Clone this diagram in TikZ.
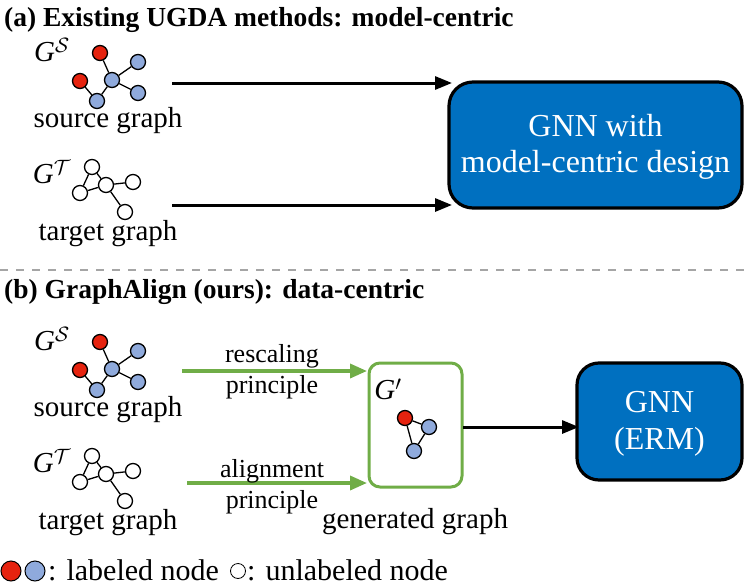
\documentclass[tikz,border=0pt]{standalone}
\usepackage{fontspec}
\setmainfont{Liberation Serif}
\usetikzlibrary{arrows.meta}
\definecolor{nred}{RGB}{230,35,15}
\definecolor{nblue}{RGB}{143,170,220}
\definecolor{boxblue}{RGB}{0,112,192}
\definecolor{grn}{RGB}{112,173,71}
\definecolor{dgray}{RGB}{165,165,165}
\begin{document}
\begin{tikzpicture}[x=1pt,y=-1pt,
  gn/.style={circle,draw=black,line width=1.3pt,minimum size=15pt,inner sep=0pt},
  rn/.style={gn,fill=nred},
  bn/.style={gn,fill=nblue},
  wn/.style={gn,fill=white},
  ge/.style={line width=1.3pt},
  lbl/.style={inner sep=0pt,anchor=base,font=\fontsize{29}{31}\selectfont},
  leg/.style={inner sep=0pt,anchor=base west,font=\fontsize{30}{32}\selectfont},
  small/.style={inner sep=0pt,anchor=base,font=\fontsize{26}{28}\selectfont},
  ttl/.style={inner sep=0pt,anchor=base west,font=\fontsize{27.5}{30}\selectfont\bfseries},
  gnnbox/.style={draw=black,line width=3.2pt,fill=boxblue,rounded corners=24pt},
  gnntext/.style={text=white,align=center,font=\fontsize{32}{36.5}\selectfont},
  blk/.style={line width=3pt,-{Triangle[length=17pt,width=13pt]}},
  garr/.style={draw=grn,line width=3.5pt,-{Triangle[length=17pt,width=14pt]}},
]
\useasboundingbox (0,0) rectangle (752,586);

% ---------- (a) ----------
\node[ttl] (ta) at (4,27) {(a) Existing UGDA methods: model-centric};

% source graph (a)
\node[lbl,anchor=center] (gsa) at (52,50) {\textit{G}$^{\mathcal{S}}$};
\node[rn] (a1) at (100,53) {};
\node[bn] (a2) at (138,62) {};
\node[bn] (a3) at (112,80) {};
\node[rn] (a4) at (80,81) {};
\node[bn] (a5) at (138,93) {};
\node[bn] (a6) at (97,101) {};
\draw[ge] (a1) -- (a3) (a3) -- (a2) (a3) -- (a5) (a3) -- (a6) (a6) -- (a4);
\node[lbl] (sga) at (108,127) {source graph};

% target graph (a)
\node[lbl,anchor=center] (gta) at (52,172) {\textit{G}$^{\mathcal{T}}$};
\node[wn] (b1) at (92,167) {};
\node[wn] (b2) at (80,193) {};
\node[wn] (b3) at (106,185) {};
\node[wn] (b4) at (133,182) {};
\node[wn] (b5) at (125,212) {};
\draw[ge] (b1) -- (b2) (b1) -- (b3) (b2) -- (b3) (b3) -- (b4) (b3) -- (b5);
\node[lbl] (tga) at (108,240) {target graph};

% GNN box (a)
\draw[gnnbox] (449,82) rectangle (742,208);
\node[gnntext] (gnna) at (595.5,147) {GNN with\\model-centric design};
\coordinate (sa) at (172,83);
\coordinate (ea) at (452,83);
\coordinate (sb) at (172,205);
\coordinate (eb) at (452,205);
\draw[blk] (sa) -- (ea);
\draw[blk] (sb) -- (eb);

% separator
\coordinate (d1) at (0,270);
\coordinate (d2) at (752,270);
\draw[dgray,line width=2pt,dash pattern=on 8pt off 8pt] (d1) -- (d2);

% ---------- (b) ----------
\node[ttl] (tb) at (4,298) {(b) GraphAlign (ours): data-centric};

% source graph (b)
\node[lbl,anchor=center] (gsb) at (52,339) {\textit{G}$^{\mathcal{S}}$};
\node[rn] (c1) at (100,342) {};
\node[bn] (c2) at (138,351) {};
\node[bn] (c3) at (112,369) {};
\node[rn] (c4) at (80,370) {};
\node[bn] (c5) at (138,382) {};
\node[bn] (c6) at (97,390) {};
\draw[ge] (c1) -- (c3) (c3) -- (c2) (c3) -- (c5) (c3) -- (c6) (c6) -- (c4);
\node[lbl] (sgb) at (108,416) {source graph};

% target graph (b)
\node[lbl,anchor=center] (gtb) at (52,461) {\textit{G}$^{\mathcal{T}}$};
\node[wn] (e1) at (92,456) {};
\node[wn] (e2) at (80,482) {};
\node[wn] (e3) at (106,474) {};
\node[wn] (e4) at (133,471) {};
\node[wn] (e5) at (125,501) {};
\draw[ge] (e1) -- (e2) (e1) -- (e3) (e2) -- (e3) (e3) -- (e4) (e3) -- (e5);
\node[lbl] (tgb) at (108,529) {target graph};

% generated graph box
\draw[grn,line width=3pt,rounded corners=11pt] (369,363) rectangle (462,487);
\node[lbl,anchor=center] (gp) at (388,389) {\textit{G}$'$};
\node[rn] (f1) at (405,418) {};
\node[bn] (f2) at (429,427) {};
\node[bn] (f3) at (414,451) {};
\draw[ge] (f1) -- (f2) (f1) -- (f3) (f2) -- (f3);
\node[lbl] (ggl) at (415,528) {generated graph};
\coordinate (gin1) at (367,371);
\coordinate (gin2) at (367,483);
\coordinate (gout) at (463,427);

% green arrows
\coordinate (gs1) at (182,371);
\coordinate (gs2) at (187,483);
\draw[garr] (gs1) -- (gin1);
\draw[garr] (gs2) -- (gin2);
\node[small] (r1) at (272,362) {rescaling};
\node[small] (r2) at (272,393) {principle};
\node[small] (r3) at (272,477) {alignment};
\node[small] (r4) at (272,508) {principle};

% GNN (ERM) box
\draw[gnnbox,rounded corners=22pt] (577,363) rectangle (742,480);
\node[gnntext] (gnnb) at (659.5,424) {GNN\\(ERM)};
\coordinate (ein) at (579,427);
\draw[blk] (gout) -- (ein);

% legend
\node[gn,fill=nred,minimum size=20pt,line width=1pt] (lr) at (11,571) {};
\node[gn,fill=nblue,minimum size=20pt,line width=1pt] (lb) at (35,571) {};
\node[leg] (lt1) at (48,580) {: labeled node};
\node[gn,minimum size=15pt,line width=0.8pt] (lw) at (238,571) {};
\node[leg] (lt2) at (247,580) {: unlabeled node};
\end{tikzpicture}
\end{document}
